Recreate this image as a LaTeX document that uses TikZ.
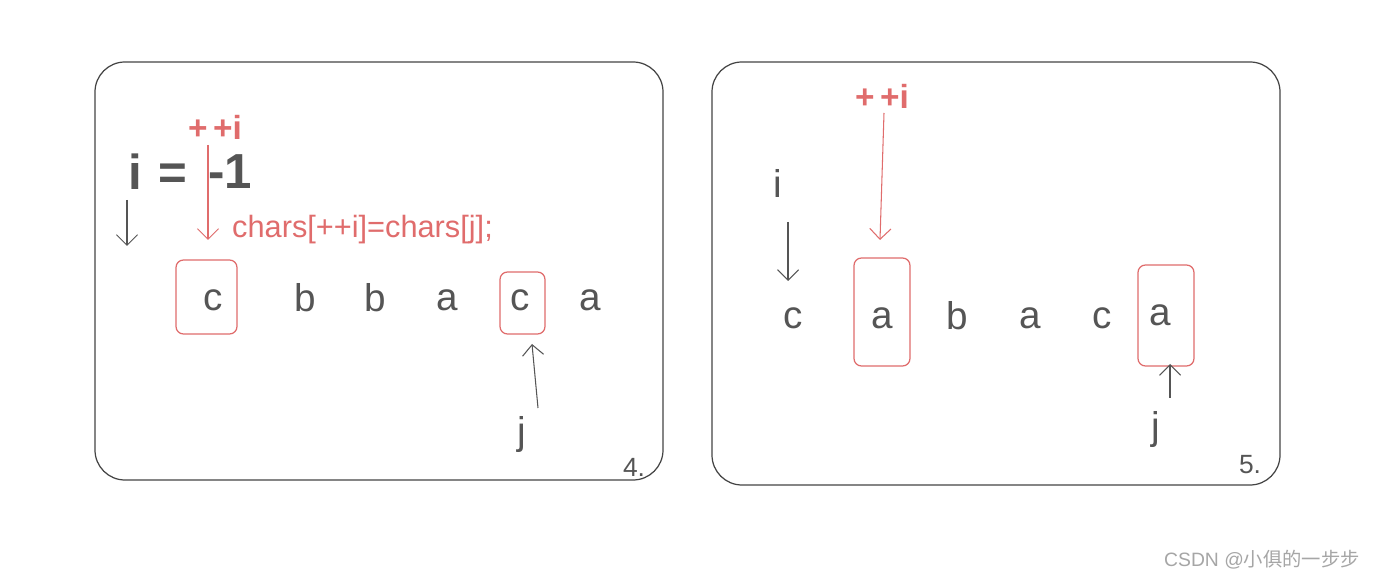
\documentclass[tikz,border=0pt]{standalone}
\usetikzlibrary{arrows.meta}
\usepackage{fontspec}
\setmainfont{Liberation Sans}
\newfontfamily\cjk{Noto Sans CJK SC}
\definecolor{rd}{HTML}{E06C6C}
\definecolor{ink}{HTML}{555555}
\begin{document}
\begin{tikzpicture}[x=0.02cm,y=-0.02cm,
  panel/.style={draw=ink!80!black,rounded corners=0.6cm,line width=0.7pt},
  rbox/.style={draw=rd,rounded corners=0.15cm,line width=0.7pt},
  ltr/.style={text=ink,font=\fontsize{22}{24}\selectfont},
  arr/.style={-{Straight Barb[length=6pt]},line width=0.6pt},
  lbl/.style={text=rd,font=\bfseries\fontsize{19}{21}\selectfont}]
\useasboundingbox[fill=white] (0,0) rectangle (1373,580);
% panel 1
\draw[panel] (95,62) rectangle (663,480);
\node[lbl] (pi1) at (215,127) {+\,+i};
\node[text=ink,font=\bfseries\fontsize{28}{30}\selectfont] (ieq) at (158,172) {i\,\,=};
\node[text=ink,font=\bfseries\fontsize{28}{30}\selectfont] (m1) at (230,172) {-1};
\coordinate (r1s) at (208,145); \coordinate (r1e) at (208,240);
\draw[arr,draw=rd] (r1s) -- (r1e);
\coordinate (b1s) at (127,200); \coordinate (b1e) at (127,246);
\draw[arr,draw=ink] (b1s) -- (b1e);
\node[text=rd,font=\fontsize{17.5}{19}\selectfont,anchor=west] (code) at (226,230) {chars[++i]=chars[j];};
\node[ltr] (a1) at (213,300) {c};
\node[ltr] (a2) at (305,298) {b};
\node[ltr] (a3) at (375,298) {b};
\node[ltr] (a4) at (447,300) {a};
\node[ltr] (a5) at (520,300) {c};
\node[ltr] (a6) at (590,300) {a};
\draw[rbox] (176,260) rectangle (237,334);
\draw[rbox] (500,272) rectangle (545,334);
\node[ltr] (j1) at (522,435) {j};
\coordinate (j1s) at (538,408); \coordinate (j1e) at (532,344);
\draw[arr,draw=ink] (j1s) -- (j1e);
\node[text=ink,font=\fontsize{15}{17}\selectfont] (n4) at (634,467) {4.};
% panel 2
\draw[panel] (712,62) rectangle (1280,485);
\node[lbl] (pi2) at (882,96) {+\,+i};
\coordinate (r2s) at (884,113); \coordinate (r2e) at (880,240);
\draw[arr,draw=rd] (r2s) -- (r2e);
\node[ltr] (i2) at (778,184) {i};
\coordinate (b2s) at (788,222); \coordinate (b2e) at (788,281);
\draw[arr,draw=ink] (b2s) -- (b2e);
\node[ltr] (c1) at (793,318) {c};
\node[ltr] (c2) at (882,318) {a};
\node[ltr] (c3) at (957,316) {b};
\node[ltr] (c4) at (1030,318) {a};
\node[ltr] (c5) at (1102,318) {c};
\node[ltr] (c6) at (1160,315) {a};
\draw[rbox] (854,258) rectangle (910,366);
\draw[rbox] (1138,265) rectangle (1194,366);
\coordinate (j2s) at (1170,398); \coordinate (j2e) at (1170,364);
\draw[arr,draw=ink] (j2s) -- (j2e);
\node[ltr] (j2) at (1156,430) {j};
\node[text=ink,font=\fontsize{15}{17}\selectfont] (n5) at (1250,465) {5.};
\node[text=gray!70,font=\fontsize{11}{13}\selectfont] (wm) at (1262,560) {CSDN @{\cjk 小俱的一步步}};
\end{tikzpicture}
\end{document}
